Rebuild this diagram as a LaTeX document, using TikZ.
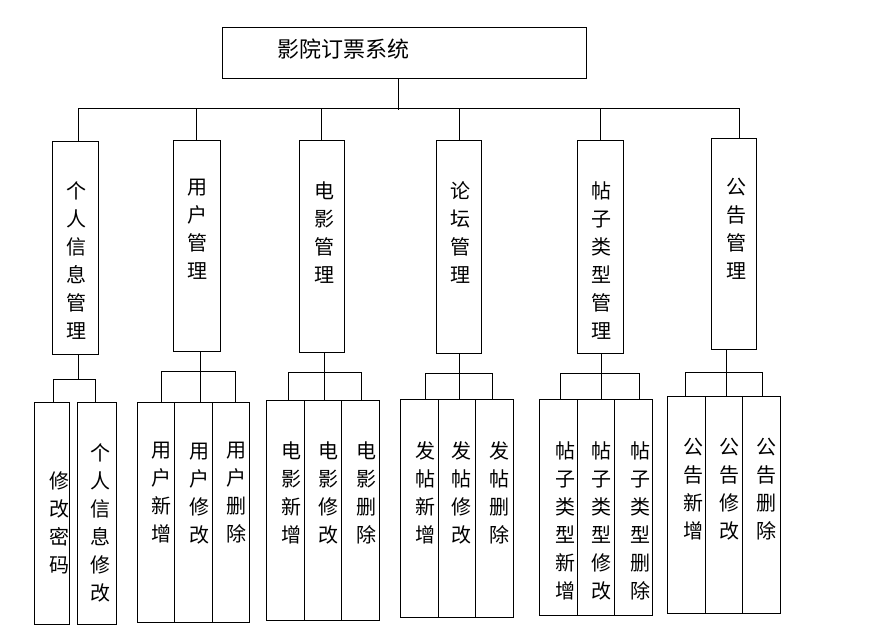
\documentclass[tikz,border=0pt]{standalone}
\usepackage{fontspec}
\setmainfont{Noto Sans CJK SC}
\usetikzlibrary{positioning}

\begin{document}
\begin{tikzpicture}[x=1pt,y=-1pt,line width=1pt,
    box/.style={draw,rectangle,outer sep=0pt,inner sep=0pt},
    module/.style={box,anchor=north west},
    leaf/.style={box,minimum width=37.5pt},
    vlabel/.style={font=\fontsize{20}{28}\selectfont,align=center,inner sep=0pt}]
  \useasboundingbox (0,0) rectangle (882,635);

  \node[module,minimum width=364pt,minimum height=51pt] (root) at (222,27) {};
  \node[font=\fontsize{22}{26}\selectfont,inner sep=0pt,right=55pt of root.west,yshift=3pt] (title) {影院订票系统};

  \node[module,minimum width=46pt,minimum height=213pt] (person) at (52,141) {};
  \node[module,minimum width=47pt,minimum height=211pt] (user) at (173,140) {};
  \node[module,minimum width=45pt,minimum height=212pt] (film) at (299,140) {};
  \node[module,minimum width=45pt,minimum height=213pt] (forum) at (436,140) {};
  \node[module,minimum width=46pt,minimum height=213pt] (ptype) at (577,140) {};
  \node[module,minimum width=45pt,minimum height=211pt] (notice) at (711,138) {};

  \node[vlabel,below=40pt of person.north,xshift=1pt] (personT) {个\\人\\信\\息\\管\\理};
  \node[vlabel,below=39pt of user.north,xshift=1pt] (userT) {用\\户\\管\\理};
  \node[vlabel,below=41pt of film.north,xshift=3pt] (filmT) {电\\影\\管\\理};
  \node[vlabel,below=41pt of forum.north,xshift=2pt] (forumT) {论\\坛\\管\\理};
  \node[vlabel,below=41pt of ptype.north,xshift=1pt] (ptypeT) {帖\\子\\类\\型\\管\\理};
  \node[vlabel,below=40pt of notice.north,xshift=3pt] (noticeT) {公\\告\\管\\理};

  % second row of boxes
  \node[module,minimum width=35pt,minimum height=222pt] (personPwd) at (34.5,402) {};
  \node[module,minimum width=39pt,minimum height=222pt] (personInfo) at (77,402) {};
  \node[vlabel,below=69pt of personPwd.north,xshift=7pt] (personPwdT) {修\\改\\密\\码};
  \node[vlabel,below=41pt of personInfo.north,xshift=4pt] (personInfoT) {个\\人\\信\\息\\修\\改};

  \node[leaf,minimum height=220pt,anchor=north west] (userAdd) at (137,402) {};
  \node[leaf,minimum height=220pt,right=0pt of userAdd] (userEdit) {};
  \node[leaf,minimum height=220pt,right=0pt of userEdit] (userDel) {};
  \node[vlabel,below=40pt of userAdd.north,xshift=6pt] (userAddT) {用\\户\\新\\增};
  \node[vlabel,below=41pt of userEdit.north,xshift=6pt] (userEditT) {用\\户\\修\\改};
  \node[vlabel,below=40pt of userDel.north,xshift=6pt] (userDelT) {用\\户\\删\\除};

  \node[leaf,minimum height=220pt,anchor=north west] (filmAdd) at (266.5,400) {};
  \node[leaf,minimum height=220pt,right=0pt of filmAdd] (filmEdit) {};
  \node[leaf,minimum height=220pt,right=0pt of filmEdit] (filmDel) {};
  \node[vlabel,below=41pt of filmAdd.north,xshift=6pt] (filmAddT) {电\\影\\新\\增};
  \node[vlabel,below=41pt of filmEdit.north,xshift=6pt] (filmEditT) {电\\影\\修\\改};
  \node[vlabel,below=41pt of filmDel.north,xshift=6pt] (filmDelT) {电\\影\\删\\除};

  \node[leaf,minimum height=218pt,anchor=north west] (postAdd) at (400.5,399) {};
  \node[leaf,minimum height=218pt,right=0pt of postAdd] (postEdit) {};
  \node[leaf,minimum height=218pt,right=0pt of postEdit] (postDel) {};
  \node[vlabel,below=42pt of postAdd.north,xshift=6pt] (postAddT) {发\\帖\\新\\增};
  \node[vlabel,below=42pt of postEdit.north,xshift=5pt] (postEditT) {发\\帖\\修\\改};
  \node[vlabel,below=42pt of postDel.north,xshift=5pt] (postDelT) {发\\帖\\删\\除};

  \node[leaf,minimum height=216pt,anchor=north west] (ptypeAdd) at (539.5,399) {};
  \node[leaf,minimum height=216pt,right=0pt of ptypeAdd] (ptypeEdit) {};
  \node[leaf,minimum height=216pt,right=0pt of ptypeEdit] (ptypeDel) {};
  \node[vlabel,below=42pt of ptypeAdd.north,xshift=7pt] (ptypeAddT) {帖\\子\\类\\型\\新\\增};
  \node[vlabel,below=42pt of ptypeEdit.north,xshift=6pt] (ptypeEditT) {帖\\子\\类\\型\\修\\改};
  \node[vlabel,below=42pt of ptypeDel.north,xshift=7pt] (ptypeDelT) {帖\\子\\类\\型\\删\\除};

  \node[leaf,minimum height=217pt,anchor=north west] (noticeAdd) at (667.5,396) {};
  \node[leaf,minimum height=217pt,right=0pt of noticeAdd] (noticeEdit) {};
  \node[leaf,minimum height=217pt,right=0pt of noticeEdit] (noticeDel) {};
  \node[vlabel,below=42pt of noticeAdd.north,xshift=7pt] (noticeAddT) {公\\告\\新\\增};
  \node[vlabel,below=42pt of noticeEdit.north,xshift=6pt] (noticeEditT) {公\\告\\修\\改};
  \node[vlabel,below=42pt of noticeDel.north,xshift=5pt] (noticeDelT) {公\\告\\删\\除};

  % connectors
  \coordinate (bus) at (398,108);
  \coordinate (sub1) at (78,379);
  \coordinate (sub2) at (200,371);
  \coordinate (sub3) at (324,372);
  \coordinate (sub4) at (459,373);
  \coordinate (sub5) at (601,373);
  \coordinate (sub6) at (726,372);

  \draw (root.south -| bus) -- ([yshift=-2pt]bus);
  \draw ([xshift=3pt]person.north) -- ([xshift=3pt]person.north |- bus) -- ([xshift=6pt]notice.north |- bus) -- ([xshift=6pt]notice.north);
  \draw (user.north) -- (user.north |- bus);
  \draw (film.north) -- (film.north |- bus);
  \draw ([xshift=1pt]forum.north) -- ([xshift=1pt]forum.north |- bus);
  \draw (ptype.north) -- (ptype.north |- bus);

  \draw (person.south -| sub1) -- (sub1);
  \draw ([xshift=1pt]personPwd.north) -- ([xshift=1pt]personPwd.north |- sub1) -- ([xshift=-1pt]personInfo.north |- sub1) -- ([xshift=-1pt]personInfo.north);

  \draw (user.south -| sub2) -- (userEdit.north -| sub2);
  \draw ([xshift=6pt]userAdd.north) -- ([xshift=6pt]userAdd.north |- sub2) -- ([xshift=5pt]userDel.north |- sub2) -- ([xshift=5pt]userDel.north);

  \draw (film.south -| sub3) -- (filmEdit.north -| sub3);
  \draw ([xshift=3pt]filmAdd.north) -- ([xshift=3pt]filmAdd.north |- sub3) -- ([xshift=1pt]filmDel.north |- sub3) -- ([xshift=1pt]filmDel.north);

  \draw (forum.south -| sub4) -- (postEdit.north -| sub4);
  \draw ([xshift=6pt]postAdd.north) -- ([xshift=6pt]postAdd.north |- sub4) -- ([xshift=-2pt]postDel.north |- sub4) -- ([xshift=-2pt]postDel.north);

  \draw (ptype.south -| sub5) -- (ptypeEdit.north -| sub5);
  \draw ([xshift=2pt]ptypeAdd.north) -- ([xshift=2pt]ptypeAdd.north |- sub5) -- ([xshift=6pt]ptypeDel.north |- sub5) -- ([xshift=6pt]ptypeDel.north);

  \draw (notice.south -| sub6) -- (noticeEdit.north -| sub6);
  \draw ([xshift=-1pt]noticeAdd.north) -- ([xshift=-1pt]noticeAdd.north |- sub6) -- ([xshift=1pt]noticeDel.north |- sub6) -- ([xshift=1pt]noticeDel.north);
\end{tikzpicture}
\end{document}
